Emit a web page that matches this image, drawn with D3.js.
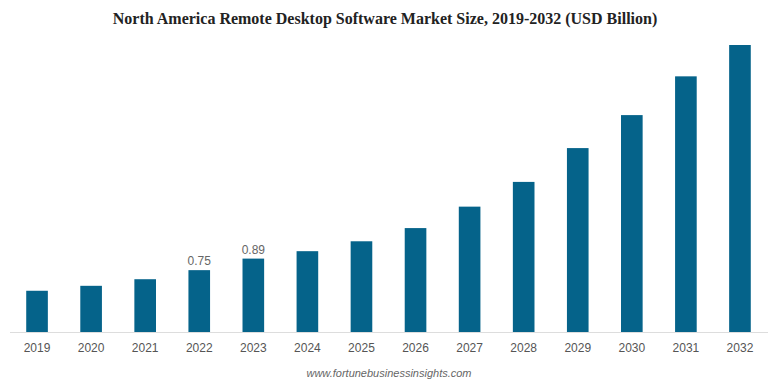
<!DOCTYPE html>
<html>
<head>
<meta charset="utf-8">
<script src="https://cdn.jsdelivr.net/npm/d3@7"></script>
<style>
  body { margin: 0; background: #fff; }
  svg { display: block; }
</style>
</head>
<body>
<svg width="770" height="385"></svg>
<script>
var years = ['2019', '2020', '2021', '2022', '2023', '2024', '2025', '2026', '2027', '2028', '2029', '2030', '2031', '2032']
var values = [0.50, 0.56, 0.64, 0.75, 0.89, 0.98, 1.10, 1.26, 1.52, 1.82, 2.23, 2.63, 3.10, 3.48]
var labelled = ['2022', '2023']

var svg = d3.select('svg')
var base = 332

var x = d3.scaleBand()
  .domain(years)
  .range([10, 767])
  .paddingInner(0.6)
  .paddingOuter(0.3)

var y = d3.scaleLinear()
  .domain([0, 3.48])
  .range([base, 45])

svg.append('text')
  .attr('x', 385)
  .attr('y', 24)
  .attr('text-anchor', 'middle')
  .style('font-family', '"Liberation Serif", "Times New Roman", serif')
  .style('font-weight', 'bold')
  .style('font-size', '16px')
  .style('fill', '#222')
  .text('North America Remote Desktop Software Market Size, 2019-2032 (USD Billion)')

svg.selectAll('rect.bar')
  .data(values)
  .enter()
  .append('rect')
  .attr('class', 'bar')
  .attr('x', function (d, i) { return x(years[i]) })
  .attr('y', function (d) { return y(d) })
  .attr('width', x.bandwidth())
  .attr('height', function (d) { return base - y(d) })
  .style('fill', '#05638a')

svg.selectAll('text.val')
  .data(values.filter(function (d, i) { return labelled.indexOf(years[i]) >= 0 }))
  .enter()
  .append('text')
  .attr('class', 'val')
  .attr('x', function (d) { return x(years[values.indexOf(d)]) + x.bandwidth() / 2 })
  .attr('y', function (d) { return y(d) - 5 })
  .attr('text-anchor', 'middle')
  .style('font-family', '"Liberation Sans", Arial, sans-serif')
  .style('font-size', '12px')
  .style('fill', '#666')
  .text(function (d) { return d.toFixed(2) })

var axis = svg.append('g')
  .attr('transform', 'translate(0,' + base + ')')
  .call(d3.axisBottom(x).tickSize(0).tickPadding(11))

axis.select('.domain')
  .attr('d', 'M10,0.5H768')
  .style('stroke', '#ddd')

axis.selectAll('text')
  .style('font-family', '"Liberation Sans", Arial, sans-serif')
  .style('font-size', '12px')
  .style('fill', '#555')

svg.append('text')
  .attr('x', 389)
  .attr('y', 377)
  .attr('text-anchor', 'middle')
  .style('font-family', '"Liberation Sans", Arial, sans-serif')
  .style('font-style', 'italic')
  .style('font-size', '11px')
  .style('fill', '#666')
  .text('www.fortunebusinessinsights.com')
</script>
</body>
</html>
